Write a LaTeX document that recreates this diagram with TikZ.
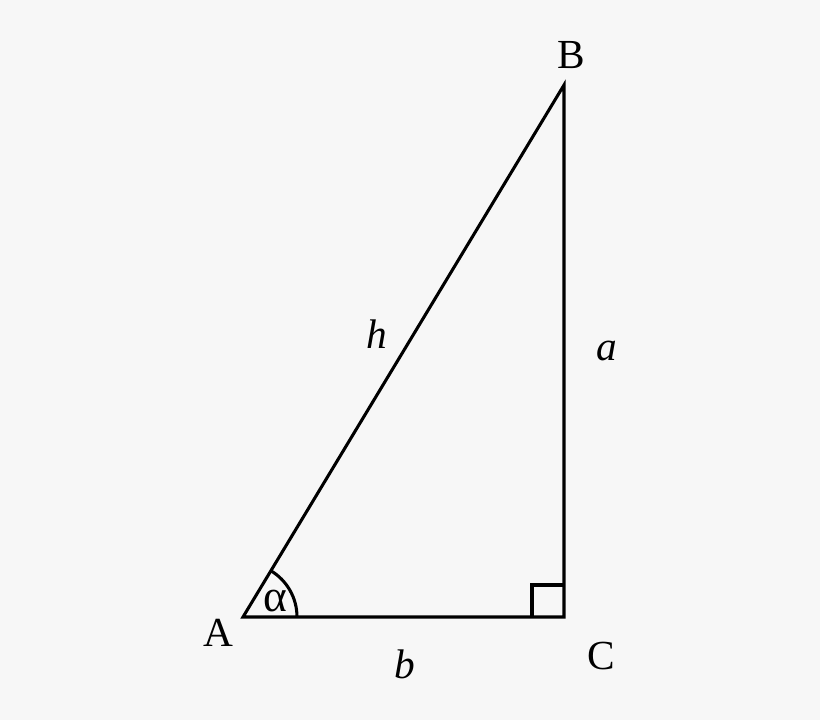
\documentclass[tikz,border=0pt]{standalone}
\usepackage{fontspec}
\setmainfont{Liberation Serif}
\definecolor{myBack}{HTML}{f7f7f7}

\begin{document}
\begin{tikzpicture}[x=0.75pt, y=0.75pt, line width=2.3pt, black]
  \tikzstyle{V}=[anchor=base, font=\fontsize{31}{37}\selectfont]
  \tikzstyle{S}=[anchor=base, font=\fontsize{31}{37}\selectfont\itshape]

  \fill[myBack] (0,0) rectangle (820,720);
  \useasboundingbox (0,0) rectangle (820,720);

  \coordinate (A) at (243,103);
  \coordinate (C) at (564,103);
  \coordinate (B) at (564,635);

  \draw (A) -- (B) -- (C) -- cycle;
  \draw ([xshift=-24pt]C) -- ++(0,32) -- ++(32,0);
  \draw ([xshift=40.5pt]A) arc[start angle=0, end angle=58.9, radius=40.5pt];

  \node[V] at (571,651) (lB) {B};
  \node[V] at (218,73) (lA) {A};
  \node[V] at (601,50) (lC) {C};
  \node[V, font=\fontsize{34}{40}\selectfont] at (275,108) (alpha) {α};

  \node[S] at (377,371) (h) {h};
  \node[S] at (607,359) (a) {a};
  \node[S] at (405,41) (b) {b};

\end{tikzpicture}
\end{document}
